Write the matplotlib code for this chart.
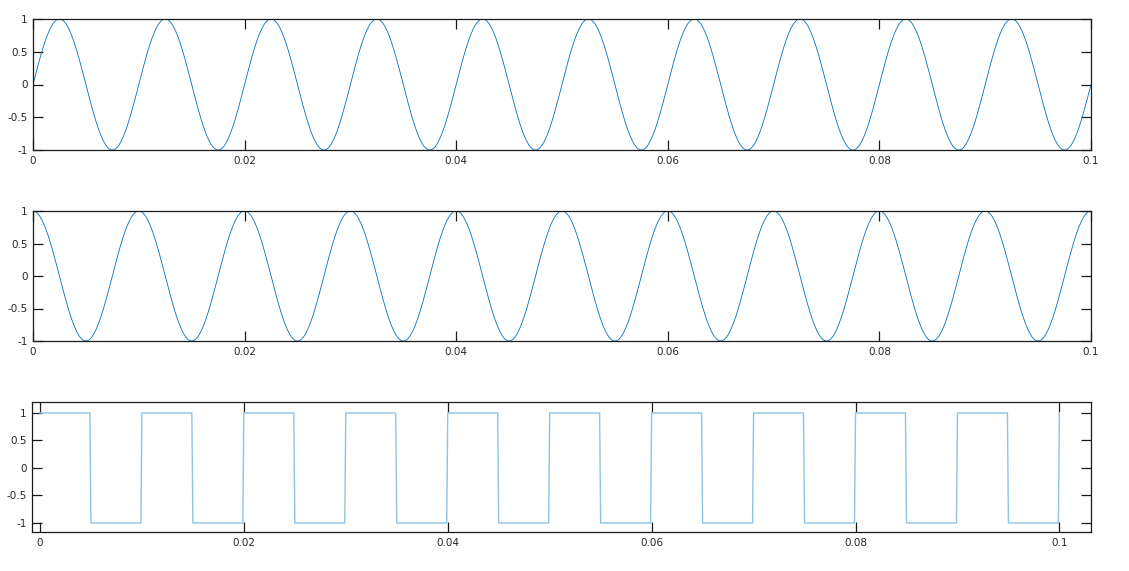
import numpy as np
import matplotlib
matplotlib.use("Agg")
import matplotlib.pyplot as plt

# signal parameters: 10 cycles in 0.1 s
freq_hz = 100
duration_s = 0.1
fs_hz = 10000

x_ticks = [0, 0.02, 0.04, 0.06, 0.08, 0.1]
x_tick_labels = ["0", "0.02", "0.04", "0.06", "0.08", "0.1"]
y_ticks = [-1, -0.5, 0, 0.5, 1]
y_tick_labels = ["-1", "-0.5", "0", "0.5", "1"]

t = np.arange(0, duration_s + 1 / fs_hz / 2, 1 / fs_hz)
sine_wave = np.sin(2 * np.pi * freq_hz * t)
cosine_wave = np.cos(2 * np.pi * freq_hz * t)
square_wave = np.where(np.mod(t * freq_hz, 1.0) < 0.5, 1.0, -1.0)

W, H = 1129, 571
fig = plt.figure(figsize=(W / 100, H / 100), dpi=100)

TXT = "#262626"


def px_axes(left, top, right, bottom):
    return fig.add_axes([left / W, 1 - bottom / H, (right - left) / W, (bottom - top) / H])


def style(ax, xlim, ylim):
    ax.set_xlim(*xlim)
    ax.set_ylim(*ylim)
    ax.set_xticks(x_ticks)
    ax.set_xticklabels(x_tick_labels)
    ax.set_yticks(y_ticks)
    ax.set_yticklabels(y_tick_labels)
    ax.tick_params(direction="in", length=7.5, width=0.9, color="#1a1a1a",
                   labelsize=7.5, labelcolor=TXT, top=True, right=True, pad=4)
    for s in ax.spines.values():
        s.set_linewidth(0.9)
        s.set_color("#1a1a1a")


ax1 = px_axes(33, 19, 1091, 150)
ax1.plot(t, sine_wave, color="#0072BD", linewidth=0.6)
style(ax1, (0, 0.1), (-1, 1))

ax2 = px_axes(33, 211, 1091, 341)
ax2.plot(t, cosine_wave, color="#0072BD", linewidth=0.6)
style(ax2, (0, 0.1), (-1, 1))

ax3 = px_axes(32, 402, 1091, 532)
ax3.plot(t, square_wave, color="#8fc3e6", linewidth=1.0)
style(ax3, (-0.00078, 0.1031), (-1.164, 1.2))

fig.savefig("out.png", dpi=100)
